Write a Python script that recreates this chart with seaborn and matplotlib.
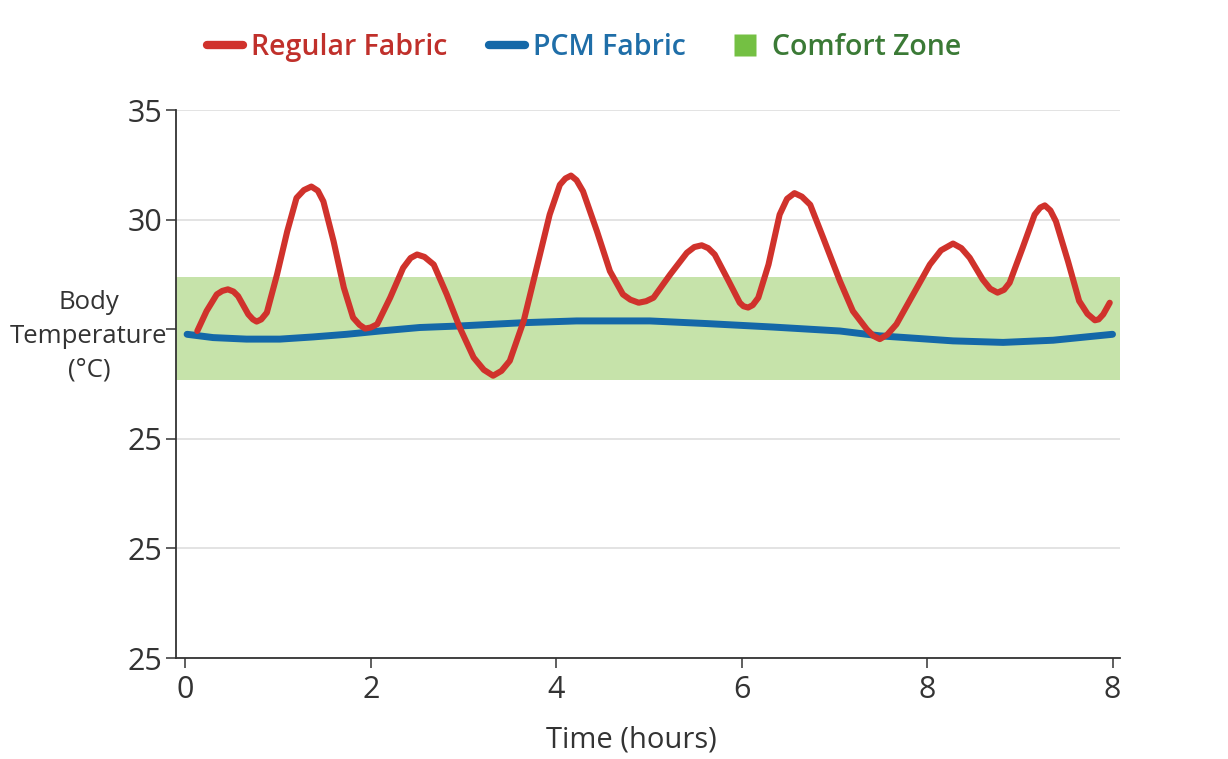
import matplotlib

matplotlib.use('Agg')
import matplotlib.pyplot as plt
import seaborn as sns
import pandas as pd
from matplotlib.lines import Line2D

# ── data ──────────────────────────────────────────────────
regular_t = [0.13, 0.23, 0.34, 0.40, 0.46, 0.52, 0.57, 0.68, 0.73, 0.77, 0.82, 0.88, 0.99, 1.10,
             1.20, 1.28, 1.36, 1.43, 1.49, 1.60, 1.71, 1.81, 1.88, 1.94, 2.00, 2.07, 2.21, 2.35,
             2.43, 2.50, 2.58, 2.68, 2.82, 2.96, 3.11, 3.22, 3.32, 3.41, 3.50, 3.65, 3.79, 3.93,
             4.04, 4.10, 4.16, 4.22, 4.29, 4.44, 4.58, 4.72, 4.80, 4.89, 4.97, 5.05, 5.23, 5.41,
             5.49, 5.57, 5.64, 5.71, 5.86, 5.98, 6.02, 6.07, 6.12, 6.18, 6.29, 6.41, 6.49, 6.57,
             6.65, 6.74, 6.88, 7.06, 7.20, 7.35, 7.42, 7.49, 7.57, 7.67, 7.85, 8.03, 8.15, 8.28,
             8.37, 8.46, 8.60, 8.68, 8.76, 8.83, 8.89, 9.03, 9.16, 9.22, 9.27, 9.33, 9.39, 9.52,
             9.64, 9.73, 9.81, 9.85, 9.90, 9.97]
regular_temp = [24.92, 25.83, 26.59, 26.75, 26.82, 26.72, 26.51, 25.68, 25.45, 25.35, 25.45, 25.76,
                27.50, 29.47, 30.99, 31.35, 31.51, 31.32, 30.83, 29.01, 26.90, 25.53, 25.20, 25.03,
                25.08, 25.23, 26.44, 27.80, 28.25, 28.41, 28.30, 27.95, 26.59, 25.08, 23.71, 23.15,
                22.88, 23.10, 23.56, 25.38, 27.80, 30.23, 31.59, 31.88, 32.01, 31.80, 31.29, 29.47,
                27.65, 26.59, 26.35, 26.21, 26.28, 26.44, 27.50, 28.49, 28.75, 28.83, 28.70, 28.41,
                27.20, 26.21, 26.05, 25.99, 26.10, 26.44, 27.95, 30.23, 30.95, 31.21, 31.05, 30.68,
                29.17, 27.20, 25.83, 25.00, 24.70, 24.55, 24.75, 25.23, 26.59, 27.95, 28.60, 28.91,
                28.70, 28.26, 27.27, 26.85, 26.67, 26.80, 27.12, 28.71, 30.23, 30.55, 30.65, 30.42,
                29.92, 28.10, 26.29, 25.70, 25.41, 25.45, 25.68, 26.21]

pcm_t = [0.02, 0.30, 0.66, 1.02, 1.38, 1.74, 2.10, 2.53, 2.96, 3.65, 4.22, 5.01, 5.62, 6.34,
         7.06, 7.49, 8.28, 8.82, 9.36, 10.0]
pcm_temp = [24.77, 24.62, 24.55, 24.55, 24.65, 24.77, 24.92, 25.08, 25.15, 25.30, 25.38, 25.38,
            25.26, 25.10, 24.92, 24.70, 24.47, 24.40, 24.50, 24.77]

comfort_low, comfort_high = 22.7, 27.4

y_ticks = [10, 15, 20, 25, 30, 35]
y_labels = ['25', '25', '25', 'Body\nTemperature\n(°C)', '30', '35']
x_ticks = [0, 2, 4, 6, 8, 10]
x_labels = ['0', '2', '4', '6', '8', '8']

RED, BLUE = '#d0322c', '#1468a8'
BAND, PATCH_GREEN = '#c6e3aa', '#74c043'
TXT_RED, TXT_BLUE, TXT_GREEN = '#c0302b', '#1f6ea8', '#3b7a36'
INK = '#333333'

sns.set_theme(style='white')
plt.rcParams['font.family'] = ['Open Sans', 'DejaVu Sans']

df_reg = pd.DataFrame({'t': regular_t, 'temp': regular_temp})
df_pcm = pd.DataFrame({'t': pcm_t, 'temp': pcm_temp})

fig = plt.figure(figsize=(12.28, 7.59), dpi=100)
ax = fig.add_axes([0.1433, 0.133, 0.7687, 0.722])

ax.axhspan(comfort_low, comfort_high, color=BAND, lw=0, zorder=1)
for yv in y_ticks:
    ax.axhline(yv, color='#dedede', lw=1.2, zorder=0.5)

sns.lineplot(data=df_pcm, x='t', y='temp', ax=ax, color=BLUE, lw=5.0,
             solid_capstyle='round', solid_joinstyle='round', zorder=3)
sns.lineplot(data=df_reg, x='t', y='temp', ax=ax, color=RED, lw=4.4,
             solid_capstyle='round', solid_joinstyle='round', zorder=4)

ax.set_xlim(-0.1, 10.08)
ax.set_ylim(10, 35)
ax.set_xticks(x_ticks)
ax.set_xticklabels(x_labels)
ax.set_yticks(y_ticks)
ax.set_yticklabels(y_labels)

ax.tick_params(axis='both', which='both', direction='out', length=7, width=1.1,
               color=INK, labelcolor=INK, labelsize=22)
ax.tick_params(axis='x', pad=5, bottom=True)
ax.tick_params(axis='y', pad=3, left=True)
for tick, lab in zip(ax.yaxis.get_major_ticks(), y_labels):
    if '\n' in lab:
        tick.set_pad(-1)
        tick.label1.set_multialignment('center')
        tick.label1.set_fontsize(18.5)
        tick.label1.set_linespacing(1.45)

for s in ['top', 'right']:
    ax.spines[s].set_visible(False)
for s in ['left', 'bottom']:
    ax.spines[s].set_color(INK)
    ax.spines[s].set_linewidth(1.3)

ax.set_xlabel('Time (hours)', fontsize=21, color=INK)
ax.xaxis.set_label_coords(0.482, -0.123)
ax.set_ylabel('')

handles = [
    Line2D([0], [0], color=RED, lw=6, solid_capstyle='round'),
    Line2D([0], [0], color=BLUE, lw=6, solid_capstyle='round'),
    Line2D([0], [0], color='none', marker='s', markersize=16,
           markerfacecolor=PATCH_GREEN, markeredgecolor='none'),
]
leg = fig.legend(handles, ['Regular Fabric', 'PCM Fabric', 'Comfort Zone'],
                 loc='center', bbox_to_anchor=(0.4756, 0.937), ncol=3, frameon=False,
                 fontsize=20.5, handlelength=1.25, handletextpad=0.3, columnspacing=1.45)
for txt, col in zip(leg.get_texts(), [TXT_RED, TXT_BLUE, TXT_GREEN]):
    txt.set_color(col)
    txt.set_fontweight('semibold')

plt.savefig('out.png', dpi=100)
